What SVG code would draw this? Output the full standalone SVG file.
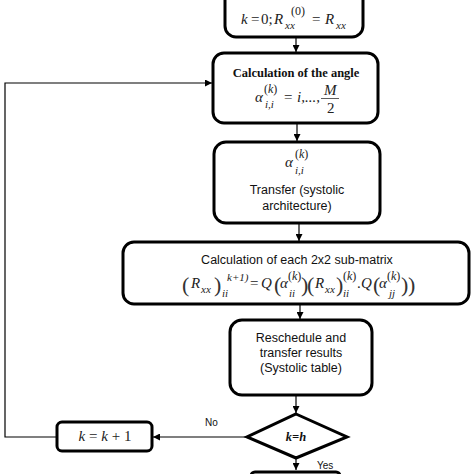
<svg xmlns="http://www.w3.org/2000/svg" width="474" height="474" viewBox="0 0 474 474">
<defs>
<marker id="ah" viewBox="0 0 10 10" refX="10" refY="5" markerWidth="7" markerHeight="7" markerUnits="userSpaceOnUse" orient="auto">
<path d="M0,0 L10,5 L0,10 z" fill="#000"/>
</marker>
<style>
.box{fill:#fff;stroke:#000;stroke-width:3}
.ln{fill:none;stroke:#000;stroke-width:1.2}
.sans{font-family:"Liberation Sans",Arial,sans-serif;font-size:12.5px;fill:#111}
.lab{font-family:"Liberation Sans",Arial,sans-serif;font-size:10px;fill:#111}
.m{font-family:"Liberation Serif","Times New Roman",serif;font-size:15px;font-style:italic;fill:#222}
.mr{font-family:"Liberation Serif","Times New Roman",serif;font-size:15px;fill:#222}
.s{font-family:"Liberation Serif","Times New Roman",serif;font-size:11px;font-style:italic;fill:#222}
.sr{font-family:"Liberation Serif","Times New Roman",serif;font-size:12px;fill:#222}
.p{font-family:"Liberation Serif","Times New Roman",serif;font-size:22px;fill:#333;font-weight:normal}
.b{font-family:"Liberation Serif","Times New Roman",serif;font-size:12.5px;font-weight:bold;fill:#111}
</style>
</defs>
<rect width="474" height="474" fill="#fff"/>
<g id="connectors">
<line class="ln" x1="296" y1="37" x2="296" y2="52" marker-end="url(#ah)"/>
<line class="ln" x1="297" y1="123" x2="297" y2="141" marker-end="url(#ah)"/>
<line class="ln" x1="299" y1="223" x2="299" y2="241" marker-end="url(#ah)"/>
<line class="ln" x1="300" y1="304" x2="300" y2="319" marker-end="url(#ah)"/>
<line class="ln" x1="296" y1="395" x2="296" y2="413" marker-end="url(#ah)"/>
<line class="ln" x1="296" y1="458" x2="296" y2="470" marker-end="url(#ah)"/>
<line class="ln" x1="247" y1="437" x2="153" y2="437" marker-end="url(#ah)"/>
<polyline class="ln" points="57,437 5,437 5,83 212,83" marker-end="url(#ah)"/>
<text class="lab" x="205" y="426">No</text>
<text class="lab" x="317" y="469">Yes</text>
</g>
<g id="init">
<rect class="box" x="225" y="-20" width="138" height="57" rx="11"/>
<text class="m" x="241" y="24">k</text>
<text class="mr" x="251" y="24">=</text>
<text class="mr" x="261" y="24">0;</text>
<text class="m" x="274" y="24">R</text>
<text class="s" x="285" y="29">xx</text>
<text class="sr" x="291" y="15" font-size="13px">(0)</text>
<text class="mr" x="312" y="24">=</text>
<text class="m" x="325" y="24">R</text>
<text class="s" x="336" y="29">xx</text>
</g>
<g id="angle">
<rect class="box" x="213" y="53" width="165" height="70" rx="11"/>
<text class="b" x="296" y="77" text-anchor="middle">Calculation of the angle</text>
<text class="m" x="255" y="102" font-size="16px">α</text>
<text class="sr" x="264" y="93">(<tspan font-style="italic">k</tspan>)</text>
<text class="s" x="265" y="108">i,i</text>
<text class="mr" x="284" y="102">=</text>
<text class="m" x="297" y="102" font-size="14px">i,...,</text>
<text class="m" x="324" y="95" font-size="13px">M</text>
<line x1="321" y1="98.5" x2="339" y2="98.5" stroke="#333" stroke-width="0.8"/>
<text class="mr" x="327" y="113" font-size="13px">2</text>
</g>
<g id="transfer">
<rect class="box" x="214" y="142" width="166" height="81" rx="12"/>
<text class="m" x="285" y="167" font-size="16px">α</text>
<text class="sr" x="295" y="158">(<tspan font-style="italic">k</tspan>)</text>
<text class="s" x="295" y="174">i,i</text>
<text class="sans" x="297" y="194" text-anchor="middle">Transfer (systolic</text>
<text class="sans" x="297" y="210" text-anchor="middle">architecture)</text>
</g>
<g id="submatrix">
<rect class="box" x="123" y="242" width="346" height="62" rx="11"/>
<text class="sans" x="297" y="264" text-anchor="middle">Calculation of each 2x2 sub-matrix</text>
<text class="p" x="182" y="292">(</text>
<text class="m" x="191" y="288">R</text>
<text class="s" x="201" y="293">xx</text>
<text class="p" x="214" y="292">)</text>
<text class="s" x="227" y="281" font-size="11.5px">k+1)</text>
<text class="s" x="222" y="297">ii</text>
<text class="mr" x="250" y="288">=</text>
<text class="m" x="261" y="288">Q</text>
<text class="p" x="274" y="292">(</text>
<text class="m" x="280" y="288">α</text>
<text class="sr" x="288" y="280">(<tspan font-style="italic">k</tspan>)</text>
<text class="s" x="289" y="297">ii</text>
<text class="p" x="301" y="292">)</text>
<text class="p" x="307" y="292">(</text>
<text class="m" x="315" y="288">R</text>
<text class="s" x="325" y="293">xx</text>
<text class="p" x="336" y="292">)</text>
<text class="sr" x="343" y="280">(<tspan font-style="italic">k</tspan>)</text>
<text class="s" x="343" y="297">ii</text>
<text class="mr" x="357" y="288">.</text>
<text class="m" x="361" y="288">Q</text>
<text class="p" x="373" y="292">(</text>
<text class="m" x="379" y="288">α</text>
<text class="sr" x="387" y="280">(<tspan font-style="italic">k</tspan>)</text>
<text class="s" x="389" y="297">jj</text>
<text class="p" x="401" y="292">)</text>
<text class="p" x="408" y="292">)</text>
</g>
<g id="reschedule">
<rect class="box" x="230" y="320" width="142" height="75" rx="12"/>
<text class="sans" x="301" y="342" text-anchor="middle">Reschedule and</text>
<text class="sans" x="301" y="357" text-anchor="middle">transfer results</text>
<text class="sans" x="301" y="372" text-anchor="middle">(Systolic table)</text>
</g>
<g id="decision">
<polygon class="box" points="296,414 347,437 296,458 247,437"/>
<text class="b" x="296" y="441" text-anchor="middle" font-style="italic" font-size="12px">k=h</text>
</g>
<g id="increment">
<rect class="box" x="57" y="422" width="95" height="29" rx="5"/>
<text class="m" x="105" y="441" text-anchor="middle" font-size="13px">k <tspan font-style="normal">=</tspan> k <tspan font-style="normal">+ 1</tspan></text>
</g>
<g id="end">
<rect class="box" x="251" y="472" width="89" height="30" rx="4"/>
</g>
</svg>
